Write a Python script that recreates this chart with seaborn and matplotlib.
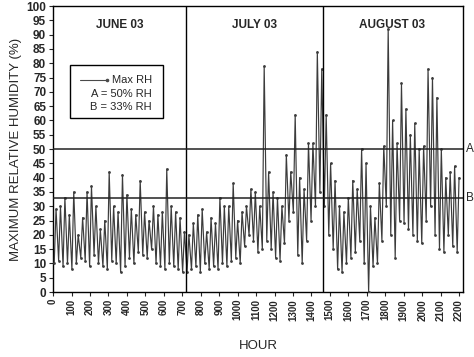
import matplotlib
matplotlib.use("Agg")
import matplotlib.pyplot as plt
import matplotlib.patches as mpatches
import numpy as np
import pandas as pd
import seaborn as sns

# daily peak / trough of maximum RH (%)
june_peak   = [29, 30, 33, 27, 35, 20, 26, 35, 37, 30, 22, 25, 42, 30, 28,
               41, 34, 29, 27, 39, 28, 25, 30, 27, 28, 43, 30, 28, 26, 21]
june_trough = [10, 11, 9, 10, 8, 10, 12, 11, 9, 13, 10, 9, 8, 11, 10,
               7, 9, 12, 10, 14, 13, 12, 15, 10, 9, 8, 10, 9, 8, 7]
july_peak   = [20, 24, 27, 29, 21, 26, 24, 33, 30, 30, 38, 25, 28, 30, 36,
               35, 30, 79, 42, 35, 33, 30, 48, 42, 62, 40, 36, 52, 52, 84, 78]
july_trough = [7, 8, 9, 7, 10, 8, 9, 8, 10, 9, 11, 12, 10, 16, 20,
               18, 14, 15, 18, 15, 12, 11, 17, 25, 28, 13, 10, 18, 25, 30, 35]
aug_peak    = [62, 45, 39, 30, 28, 33, 39, 36, 50, 45, 30, 26, 38, 51, 92,
               60, 52, 73, 64, 55, 59, 50, 51, 78, 75, 68, 50, 40, 42, 44, 40]
aug_trough  = [30, 20, 15, 8, 7, 10, 12, 14, 18, 10, 0, 9, 10, 18, 30,
               20, 12, 25, 24, 22, 20, 18, 17, 25, 30, 20, 15, 14, 20, 16, 14]

month_labels = ["JUNE 03", "JULY 03", "AUGUST 03"]
month_days   = [30, 31, 31]
ref_levels   = [50, 33]
ref_names    = ["A", "B"]

peaks   = june_peak + july_peak + aug_peak
troughs = june_trough + july_trough + aug_trough
rh = np.ravel(np.column_stack([troughs, peaks]))
day = np.repeat(np.arange(len(peaks)), 2)
hour = day * 24 + np.tile([6, 16], len(peaks))
df = pd.DataFrame({"hour": hour, "rh": rh})

sns.set_theme(style="ticks")
plt.rcParams["font.family"] = ["Liberation Sans", "DejaVu Sans"]

fig = plt.figure(figsize=(4.74, 3.57), dpi=100)
ax = fig.add_axes([0.112, 0.182, 0.865, 0.801])

sns.lineplot(data=df, x="hour", y="rh", ax=ax, estimator=None, color="#3c3c3c",
             linewidth=0.85, marker="o", markersize=2.0, markeredgewidth=0,
             zorder=3)

# month separators and labels
bounds = np.cumsum([0] + month_days) * 24
for b in bounds[1:-1]:
    ax.axvline(b, color="black", lw=1.0, zorder=4)
for i, lab in enumerate(month_labels):
    ax.text((bounds[i] + bounds[i + 1]) / 2, 93.5, lab, ha="center", va="center",
            fontsize=8.5, fontweight="bold")

# reference levels A / B
for lvl, nm in zip(ref_levels, ref_names):
    ax.axhline(lvl, color="#222222", lw=1.1, zorder=4)
    ax.text(1.006, lvl, nm, transform=ax.get_yaxis_transform(), ha="left",
            va="center", fontsize=8.5, clip_on=False)

# legend box
ax.add_patch(mpatches.Rectangle((0.0415, 0.608), 0.2265, 0.186, transform=ax.transAxes,
                                facecolor="white", edgecolor="black", lw=1.0, zorder=5))
ax.plot([0.066, 0.132], [0.741, 0.741], transform=ax.transAxes, color="#4a4a4a",
        lw=0.8, marker="o", markersize=1.6, markevery=[1], zorder=6)
ax.text(0.241, 0.741, "Max RH", transform=ax.transAxes, ha="right", va="center",
        fontsize=8, zorder=6)
ax.text(0.241, 0.694, "A = 50% RH", transform=ax.transAxes, ha="right", va="center",
        fontsize=8, zorder=6)
ax.text(0.241, 0.647, "B = 33% RH", transform=ax.transAxes, ha="right", va="center",
        fontsize=8, zorder=6)

ax.set_xlim(0, 2222)
ax.set_ylim(0, 100)
ax.set_xticks(np.arange(0, 2201, 100))
ax.set_yticks(np.arange(0, 101, 5))
ax.tick_params(axis="x", labelrotation=90, labelsize=7, length=3, width=0.8, pad=2)
ax.tick_params(axis="y", labelsize=8.5, length=3, width=0.8, pad=2)
for lab in ax.get_xticklabels() + ax.get_yticklabels():
    lab.set_fontweight("bold")
for sp in ax.spines.values():
    sp.set_visible(True)
    sp.set_color("black")
    sp.set_linewidth(1.0)

ax.set_xlabel("HOUR", fontsize=9.5, labelpad=14)
ax.set_ylabel("MAXIMUM RELATIVE HUMIDITY (%)", fontsize=9.5, labelpad=3)

fig.savefig("out.png", dpi=100, facecolor="white")
